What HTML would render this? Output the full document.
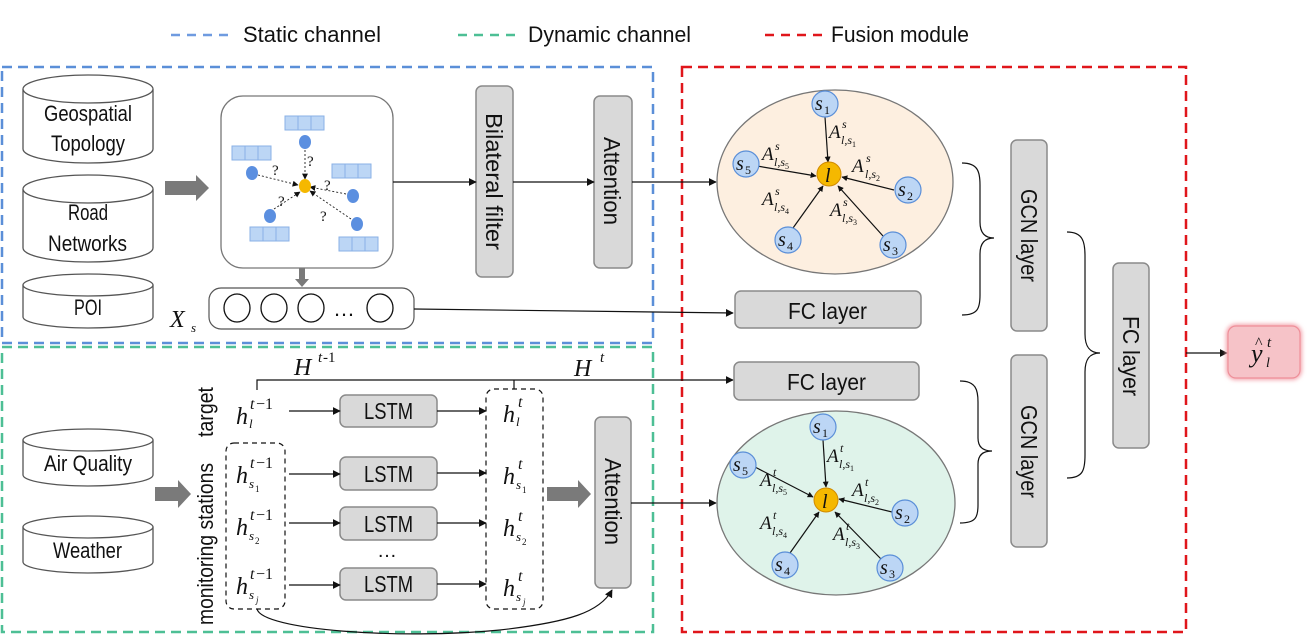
<!DOCTYPE html>
<html><head><meta charset="utf-8"><style>
body{margin:0;background:#fff;}
svg{display:block;}
.t{font-family:"Liberation Sans Narrow","Liberation Sans",sans-serif;fill:#111;}
.m{font-family:"Liberation Serif",serif;font-style:italic;fill:#111;}
.box{fill:#d9d9d9;stroke:#8a8a8a;stroke-width:1.5;}
.cyl{fill:#fff;stroke:#555;stroke-width:1.3;}
.ln{stroke:#111;stroke-width:1.2;fill:none;}
.bn{fill:#bcd6f5;stroke:#5b8fd8;stroke-width:1.2;}
</style></head><body>
<svg width="1314" height="644" viewBox="0 0 1314 644" xmlns="http://www.w3.org/2000/svg">
<defs>
<marker id="a" viewBox="0 0 10 10" refX="9" refY="5" markerWidth="8" markerHeight="8" orient="auto-start-reverse" markerUnits="userSpaceOnUse"><path d="M0,0 L10,5 L0,10 z" fill="#111"/></marker>
<marker id="as" viewBox="0 0 10 10" refX="9" refY="5" markerWidth="6" markerHeight="6" orient="auto" markerUnits="userSpaceOnUse"><path d="M0,0 L10,5 L0,10 z" fill="#111"/></marker>
<filter id="gl"><feGaussianBlur stdDeviation="2"/></filter>
</defs>
<!-- legend -->
<line x1="171" y1="35" x2="231" y2="35" stroke="#6f9be0" stroke-width="2.5" stroke-dasharray="9,7"/>
<text class="t" x="243" y="42" font-size="22" textLength="138" lengthAdjust="spacingAndGlyphs">Static channel</text>
<line x1="458" y1="35" x2="517" y2="35" stroke="#4dbf95" stroke-width="2.5" stroke-dasharray="9,7"/>
<text class="t" x="528" y="42" font-size="22" textLength="163" lengthAdjust="spacingAndGlyphs">Dynamic channel</text>
<line x1="765" y1="35" x2="822" y2="35" stroke="#e0161b" stroke-width="2.5" stroke-dasharray="9,7"/>
<text class="t" x="831" y="42" font-size="22" textLength="138" lengthAdjust="spacingAndGlyphs">Fusion module</text>

<!-- dashed containers -->
<rect x="2" y="67" width="651" height="276" fill="none" stroke="#5b8fd8" stroke-width="2.5" stroke-dasharray="10,6"/>
<rect x="2" y="347" width="651" height="285" fill="none" stroke="#4dbf95" stroke-width="2.5" stroke-dasharray="10,6"/>
<rect x="682" y="67" width="504" height="565" fill="none" stroke="#e0161b" stroke-width="2.5" stroke-dasharray="10,6"/>

<!-- cylinders static -->
<g>
<path class="cyl" d="M23,89 L23,149 A65,14 0 0 0 153,149 L153,89"/>
<ellipse class="cyl" cx="88" cy="89" rx="65" ry="14"/>
<text class="t" x="44" y="121" font-size="22" textLength="88" lengthAdjust="spacingAndGlyphs">Geospatial</text>
<text class="t" x="51" y="151" font-size="22" textLength="74" lengthAdjust="spacingAndGlyphs">Topology</text>
<path class="cyl" d="M23,189 L23,248 A65,14 0 0 0 153,248 L153,189"/>
<ellipse class="cyl" cx="88" cy="189" rx="65" ry="14"/>
<text class="t" x="68" y="220" font-size="22" textLength="40" lengthAdjust="spacingAndGlyphs">Road</text>
<text class="t" x="48" y="251" font-size="22" textLength="79" lengthAdjust="spacingAndGlyphs">Networks</text>
<path class="cyl" d="M23,285 L23,317 A65,11 0 0 0 153,317 L153,285"/>
<ellipse class="cyl" cx="88" cy="285" rx="65" ry="11"/>
<text class="t" x="74" y="315" font-size="22" textLength="28" lengthAdjust="spacingAndGlyphs">POI</text>
</g>
<!-- gray arrow -->
<path d="M165,181 L196,181 L196,175 L209,188 L196,201 L196,195 L165,195 z" fill="#7a7a7a"/>
<!-- graph box -->
<rect x="221" y="96" width="172" height="172" rx="22" fill="#fff" stroke="#777" stroke-width="1.3"/>
<g fill="#bcd6f5" stroke="#8ab0e6" stroke-width="1">
<rect x="285" y="116" width="13" height="14"/><rect x="298" y="116" width="13" height="14"/><rect x="311" y="116" width="13" height="14"/>
<rect x="232" y="146" width="13" height="14"/><rect x="245" y="146" width="13" height="14"/><rect x="258" y="146" width="13" height="14"/>
<rect x="332" y="164" width="13" height="14"/><rect x="345" y="164" width="13" height="14"/><rect x="358" y="164" width="13" height="14"/>
<rect x="250" y="227" width="13" height="14"/><rect x="263" y="227" width="13" height="14"/><rect x="276" y="227" width="13" height="14"/>
<rect x="339" y="237" width="13" height="14"/><rect x="352" y="237" width="13" height="14"/><rect x="365" y="237" width="13" height="14"/>
</g>
<g stroke="#222" stroke-width="0.9" stroke-dasharray="2,2" fill="none" marker-end="url(#as)">
<line x1="305" y1="150" x2="305" y2="179"/>
<line x1="258" y1="175" x2="298" y2="185"/>
<line x1="346" y1="194" x2="310" y2="187"/>
<line x1="274" y1="209" x2="300" y2="192"/>
<line x1="351" y1="219" x2="310" y2="191"/>
</g>
<g fill="#5b8fe0"><ellipse cx="305" cy="142" rx="6" ry="7"/><ellipse cx="252" cy="173" rx="6" ry="7"/><ellipse cx="353" cy="196" rx="6" ry="7"/><ellipse cx="270" cy="216" rx="6" ry="7"/><ellipse cx="357" cy="224" rx="6" ry="7"/></g>
<ellipse cx="305" cy="186" rx="6" ry="7" fill="#f5b800"/>
<g font-size="15" font-family="Liberation Serif" fill="#111"><text x="307" y="166">?</text><text x="272" y="175">?</text><text x="324" y="190">?</text><text x="278" y="206">?</text><text x="320" y="221">?</text></g>
<!-- down arrow -->
<path d="M299,268 L305,268 L305,279 L309,279 L302,287 L295,279 L299,279 z" fill="#7a7a7a"/>
<!-- Xs -->
<text class="m" x="170" y="327" font-size="24">X</text><text class="m" x="191" y="332" font-size="13">s</text>
<rect x="209" y="288" width="205" height="41" rx="12" fill="#fff" stroke="#555" stroke-width="1.2"/>
<g fill="none" stroke="#111" stroke-width="1.3"><ellipse cx="237" cy="308" rx="13" ry="14"/><ellipse cx="274" cy="308" rx="13" ry="14"/><ellipse cx="311" cy="308" rx="13" ry="14"/><ellipse cx="380" cy="308" rx="13" ry="14"/></g>
<text class="t" x="344" y="316" font-size="22" text-anchor="middle">…</text>
<line class="ln" x1="414" y1="309" x2="733" y2="313" marker-end="url(#a)"/>
<!-- bilateral & attention -->
<rect class="box" x="476" y="86" width="37" height="191" rx="6"/>
<text class="t" font-size="23" transform="translate(486,113) rotate(90)" textLength="137" lengthAdjust="spacingAndGlyphs">Bilateral filter</text>
<rect class="box" x="594" y="96" width="38" height="172" rx="6"/>
<text class="t" font-size="23" transform="translate(604,137) rotate(90)" textLength="88" lengthAdjust="spacingAndGlyphs">Attention</text>
<line class="ln" x1="393" y1="182" x2="476" y2="182" marker-end="url(#a)"/>
<line class="ln" x1="513" y1="182" x2="594" y2="182" marker-end="url(#a)"/>
<line class="ln" x1="632" y1="182" x2="716" y2="182" marker-end="url(#a)"/>

<!-- dynamic cylinders -->
<path class="cyl" d="M23,440 L23,475 A65,11 0 0 0 153,475 L153,440"/>
<ellipse class="cyl" cx="88" cy="440" rx="65" ry="11"/>
<text class="t" x="44" y="471" font-size="22" textLength="88" lengthAdjust="spacingAndGlyphs">Air Quality</text>
<path class="cyl" d="M23,527 L23,562 A65,11 0 0 0 153,562 L153,527"/>
<ellipse class="cyl" cx="88" cy="527" rx="65" ry="11"/>
<text class="t" x="53" y="558" font-size="22" textLength="69" lengthAdjust="spacingAndGlyphs">Weather</text>
<path d="M155,487 L178,487 L178,480 L191,494 L178,508 L178,501 L155,501 z" fill="#7a7a7a"/>
<text class="t" font-size="22" transform="translate(213,437) rotate(-90)" textLength="50" lengthAdjust="spacingAndGlyphs">target</text>
<text class="t" font-size="22" transform="translate(213,625) rotate(-90)" textLength="162" lengthAdjust="spacingAndGlyphs">monitoring stations</text>
<!-- H line -->
<polyline class="ln" points="257,390 257,380 733,380" marker-end="url(#a)"/>
<line class="ln" x1="514" y1="380" x2="514" y2="389"/>
<text class="m" x="294" y="375" font-size="24">H</text><text class="m" x="318" y="362" font-size="15">t</text><text x="323" y="362" font-size="15" font-family="Liberation Serif" fill="#111">-1</text>
<text class="m" x="574" y="376" font-size="24">H</text><text class="m" x="600" y="362" font-size="15">t</text>
<!-- dashed boxes -->
<rect x="226" y="443" width="59" height="166" rx="8" fill="none" stroke="#111" stroke-width="1.2" stroke-dasharray="5,4"/>
<rect x="486" y="389" width="57" height="220" rx="8" fill="none" stroke="#111" stroke-width="1.2" stroke-dasharray="5,4"/>
<!-- h labels -->
<g class="m">
<text x="236" y="424" font-size="24">h</text><text x="249" y="428" font-size="13">l</text><text x="250" y="409" font-size="16">t</text><text x="256" y="409" font-size="16" font-style="normal">−1</text>
<text x="236" y="483" font-size="24">h</text><text x="249" y="488" font-size="13">s</text><text x="255" y="492" font-size="9" font-style="normal">1</text><text x="250" y="468" font-size="16">t</text><text x="256" y="468" font-size="16" font-style="normal">−1</text>
<text x="236" y="535" font-size="24">h</text><text x="249" y="540" font-size="13">s</text><text x="255" y="544" font-size="9" font-style="normal">2</text><text x="250" y="520" font-size="16">t</text><text x="256" y="520" font-size="16" font-style="normal">−1</text>
<text x="236" y="594" font-size="24">h</text><text x="249" y="599" font-size="13">s</text><text x="256" y="603" font-size="9">j</text><text x="250" y="579" font-size="16">t</text><text x="256" y="579" font-size="16" font-style="normal">−1</text>
<text x="503" y="422" font-size="24">h</text><text x="516" y="426" font-size="13">l</text><text x="518" y="407" font-size="16">t</text>
<text x="503" y="484" font-size="24">h</text><text x="516" y="489" font-size="13">s</text><text x="522" y="493" font-size="9" font-style="normal">1</text><text x="518" y="469" font-size="16">t</text>
<text x="503" y="536" font-size="24">h</text><text x="516" y="541" font-size="13">s</text><text x="522" y="545" font-size="9" font-style="normal">2</text><text x="518" y="521" font-size="16">t</text>
<text x="503" y="596" font-size="24">h</text><text x="516" y="601" font-size="13">s</text><text x="523" y="605" font-size="9">j</text><text x="518" y="581" font-size="16">t</text>
</g>
<!-- LSTMs -->
<g>
<rect class="box" x="340" y="395" width="97" height="32" rx="6"/><text class="t" x="364" y="419" font-size="23" textLength="49" lengthAdjust="spacingAndGlyphs">LSTM</text>
<rect class="box" x="340" y="457" width="97" height="33" rx="6"/><text class="t" x="364" y="482" font-size="23" textLength="49" lengthAdjust="spacingAndGlyphs">LSTM</text>
<rect class="box" x="340" y="507" width="97" height="33" rx="6"/><text class="t" x="364" y="532" font-size="23" textLength="49" lengthAdjust="spacingAndGlyphs">LSTM</text>
<rect class="box" x="340" y="568" width="97" height="32" rx="6"/><text class="t" x="364" y="592" font-size="23" textLength="49" lengthAdjust="spacingAndGlyphs">LSTM</text>
<text class="t" x="387" y="557" font-size="20" text-anchor="middle">…</text>
</g>
<g class="ln">
<line x1="289" y1="411" x2="340" y2="411" marker-end="url(#a)"/><line x1="437" y1="411" x2="486" y2="411" marker-end="url(#a)"/>
<line x1="289" y1="474" x2="340" y2="474" marker-end="url(#a)"/><line x1="437" y1="473" x2="486" y2="473" marker-end="url(#a)"/>
<line x1="289" y1="523" x2="340" y2="523" marker-end="url(#a)"/><line x1="437" y1="523" x2="486" y2="523" marker-end="url(#a)"/>
<line x1="289" y1="585" x2="340" y2="585" marker-end="url(#a)"/><line x1="437" y1="584" x2="486" y2="584" marker-end="url(#a)"/>
</g>
<path d="M547,487 L578,487 L578,480 L591,494 L578,508 L578,501 L547,501 z" fill="#7a7a7a"/>
<rect class="box" x="595" y="417" width="36" height="171" rx="6"/>
<text class="t" font-size="23" transform="translate(605,458) rotate(90)" textLength="87" lengthAdjust="spacingAndGlyphs">Attention</text>
<path class="ln" d="M257,609 C262,630 400,640 500,630 C570,622 600,612 612,590" marker-end="url(#a)"/>
<line class="ln" x1="631" y1="503" x2="716" y2="503" marker-end="url(#a)"/>

<!-- top ellipse graph -->
<ellipse cx="835" cy="182" rx="118" ry="92" fill="#fdefe0" stroke="#777" stroke-width="1.3"/>
<g class="ln" stroke-width="1">
<line x1="825" y1="117" x2="828" y2="162" marker-end="url(#as)"/>
<line x1="757" y1="166" x2="816" y2="176" marker-end="url(#as)"/>
<line x1="894" y1="190" x2="842" y2="177" marker-end="url(#as)"/>
<line x1="793" y1="228" x2="823" y2="186" marker-end="url(#as)"/>
<line x1="883" y1="236" x2="838" y2="186" marker-end="url(#as)"/>
</g>
<circle cx="829" cy="174" r="12" fill="#f5b800" stroke="#d08a00"/>
<text class="m" x="825" y="182" font-size="20">l</text>
<g class="m" font-size="20">
<circle class="bn" cx="825" cy="104" r="13"/><text x="815" y="110">s</text><text x="824" y="114" font-size="12" font-style="normal">1</text>
<circle class="bn" cx="746" cy="164" r="13"/><text x="736" y="170">s</text><text x="745" y="174" font-size="12" font-style="normal">5</text>
<circle class="bn" cx="908" cy="190" r="13"/><text x="898" y="196">s</text><text x="907" y="200" font-size="12" font-style="normal">2</text>
<circle class="bn" cx="788" cy="240" r="13"/><text x="778" y="246">s</text><text x="787" y="250" font-size="12" font-style="normal">4</text>
<circle class="bn" cx="893" cy="245" r="13"/><text x="883" y="251">s</text><text x="892" y="255" font-size="12" font-style="normal">3</text>
</g>
<g class="m" font-size="19">
<text x="829" y="138">A</text><text x="842" y="128" font-size="12">s</text><text x="841" y="144" font-size="12">l,s</text><text x="852" y="147" font-size="8" font-style="normal">1</text>
<text x="762" y="160">A</text><text x="775" y="150" font-size="12">s</text><text x="774" y="166" font-size="12">l,s</text><text x="785" y="169" font-size="8" font-style="normal">5</text>
<text x="852" y="172">A</text><text x="866" y="162" font-size="12">s</text><text x="865" y="178" font-size="12">l,s</text><text x="876" y="181" font-size="8" font-style="normal">2</text>
<text x="762" y="205">A</text><text x="775" y="195" font-size="12">s</text><text x="774" y="211" font-size="12">l,s</text><text x="785" y="214" font-size="8" font-style="normal">4</text>
<text x="830" y="216">A</text><text x="843" y="206" font-size="12">s</text><text x="842" y="222" font-size="12">l,s</text><text x="853" y="225" font-size="8" font-style="normal">3</text>
</g>

<!-- bottom ellipse graph -->
<ellipse cx="836" cy="503" rx="119" ry="92" fill="#dff3ea" stroke="#777" stroke-width="1.3"/>
<g class="ln" stroke-width="1">
<line x1="823" y1="440" x2="826" y2="487" marker-end="url(#as)"/>
<line x1="755" y1="467" x2="813" y2="497" marker-end="url(#as)"/>
<line x1="892" y1="512" x2="839" y2="499" marker-end="url(#as)"/>
<line x1="790" y1="553" x2="819" y2="512" marker-end="url(#as)"/>
<line x1="881" y1="559" x2="835" y2="512" marker-end="url(#as)"/>
</g>
<circle cx="826" cy="500" r="12" fill="#f5b800" stroke="#d08a00"/>
<text class="m" x="822" y="508" font-size="20">l</text>
<g class="m" font-size="20">
<circle class="bn" cx="823" cy="427" r="13"/><text x="813" y="433">s</text><text x="822" y="437" font-size="12" font-style="normal">1</text>
<circle class="bn" cx="743" cy="465" r="13"/><text x="733" y="471">s</text><text x="742" y="475" font-size="12" font-style="normal">5</text>
<circle class="bn" cx="905" cy="513" r="13"/><text x="895" y="519">s</text><text x="904" y="523" font-size="12" font-style="normal">2</text>
<circle class="bn" cx="785" cy="565" r="13"/><text x="775" y="571">s</text><text x="784" y="575" font-size="12" font-style="normal">4</text>
<circle class="bn" cx="890" cy="568" r="13"/><text x="880" y="574">s</text><text x="889" y="578" font-size="12" font-style="normal">3</text>
</g>
<g class="m" font-size="19">
<text x="827" y="462">A</text><text x="840" y="452" font-size="12">t</text><text x="839" y="468" font-size="12">l,s</text><text x="850" y="471" font-size="8" font-style="normal">1</text>
<text x="760" y="486">A</text><text x="773" y="476" font-size="12">t</text><text x="772" y="492" font-size="12">l,s</text><text x="783" y="495" font-size="8" font-style="normal">5</text>
<text x="852" y="496">A</text><text x="865" y="486" font-size="12">t</text><text x="864" y="502" font-size="12">l,s</text><text x="875" y="505" font-size="8" font-style="normal">2</text>
<text x="760" y="529">A</text><text x="773" y="519" font-size="12">t</text><text x="772" y="535" font-size="12">l,s</text><text x="783" y="538" font-size="8" font-style="normal">4</text>
<text x="833" y="540">A</text><text x="846" y="530" font-size="12">t</text><text x="845" y="546" font-size="12">l,s</text><text x="856" y="549" font-size="8" font-style="normal">3</text>
</g>

<!-- FC layers -->
<rect class="box" x="735" y="291" width="186" height="37" rx="6"/><text class="t" x="788" y="319" font-size="23" textLength="79" lengthAdjust="spacingAndGlyphs">FC layer</text>
<rect class="box" x="734" y="362" width="185" height="38" rx="6"/><text class="t" x="787" y="390" font-size="23" textLength="79" lengthAdjust="spacingAndGlyphs">FC layer</text>
<!-- GCN -->
<rect class="box" x="1011" y="140" width="36" height="191" rx="6"/>
<text class="t" font-size="23" transform="translate(1021,189) rotate(90)" textLength="93" lengthAdjust="spacingAndGlyphs">GCN layer</text>
<rect class="box" x="1011" y="355" width="36" height="192" rx="6"/>
<text class="t" font-size="23" transform="translate(1021,405) rotate(90)" textLength="93" lengthAdjust="spacingAndGlyphs">GCN layer</text>
<!-- braces -->
<g class="ln" stroke-width="1.6">
<path d="M962,163 C978,163 980,172 980,185 L980,222 C980,232 984,238 994,238 C984,238 980,244 980,254 L980,295 C980,308 978,315 962,315"/>
<path d="M960,381 C976,381 978,390 978,402 L978,438 C978,446 982,451 992,451 C982,451 978,456 978,464 L978,505 C978,517 976,523 960,523"/>
<path d="M1067,232 C1083,232 1085,242 1085,256 L1085,334 C1085,346 1089,353 1100,353 C1089,353 1085,360 1085,372 L1085,455 C1085,470 1083,478 1067,478"/>
</g>
<rect class="box" x="1113" y="263" width="36" height="185" rx="6"/>
<text class="t" font-size="23" transform="translate(1123,316) rotate(90)" textLength="80" lengthAdjust="spacingAndGlyphs">FC layer</text>
<line class="ln" x1="1186" y1="353" x2="1227" y2="353" marker-end="url(#a)"/>
<rect x="1226" y="324" width="76" height="56" rx="10" fill="#f4a4ad" filter="url(#gl)"/>
<rect x="1228" y="326" width="72" height="52" rx="8" fill="#f6c3c8" stroke="#ee8f99" stroke-width="1.2"/>
<text class="m" x="1251" y="362" font-size="26">y</text><text x="1255" y="348" font-size="16" font-family="Liberation Serif" fill="#111">^</text>
<text class="m" x="1267" y="347" font-size="15">t</text><text class="m" x="1266" y="367" font-size="14">l</text>
</svg>
</body></html>
